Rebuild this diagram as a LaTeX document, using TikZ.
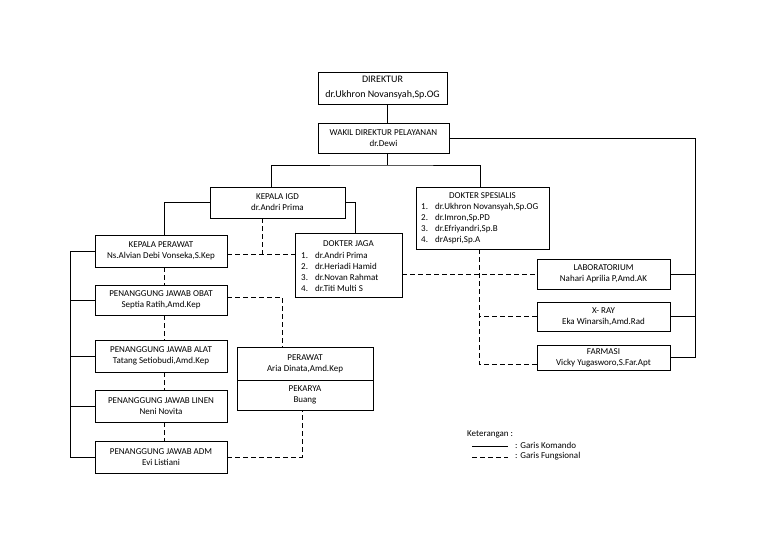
\documentclass[tikz,border=0pt]{standalone}
\usepackage{fontspec}
\setmainfont{Carlito}
\usetikzlibrary{calc}
\newcommand\fs{\fontsize{9}{11}\selectfont}
\newcommand\fsb{\fontsize{10}{15}\selectfont}
\begin{document}
\begin{tikzpicture}[x=1pt,y=-1pt,
 box/.style={draw, line width=0.9pt, align=center, inner sep=0pt, font=\fs},
 txt/.style={inner sep=0pt, font=\fs},
 cmd/.style={line width=0.8pt},
 fung/.style={line width=0.8pt, dash pattern=on 5pt off 3pt}]
\useasboundingbox[fill=white] (0,0) rectangle (768,543);
% boxes
\node[box, font=\fsb, minimum width=129pt, minimum height=32pt] (dir) at (382.5,88) {DIREKTUR\\dr.Ukhron Novansyah,Sp.OG};
\node[box, minimum width=131pt, minimum height=30pt] (wakil) at (383.5,138) {WAKIL DIREKTUR PELAYANAN\\dr.Dewi};
\node[box, minimum width=135pt, minimum height=31pt] (igd) at (277.5,202.5) {KEPALA IGD\\dr.Andri Prima};
\node[box, minimum width=133pt, minimum height=62pt] (spes) at (482.5,218) {};
\node[txt] (spest) at (482.5,196) {DOKTER SPESIALIS};
\node[txt, align=left, anchor=west] (spesl) at (421,223.5) {\makebox[14pt][l]{1.}dr.Ukhron Novansyah,Sp.OG\\\makebox[14pt][l]{2.}dr.Imron,Sp.PD\\\makebox[14pt][l]{3.}dr.Efriyandri,Sp.B\\\makebox[14pt][l]{4.}drAspri,Sp.A};
\node[box, minimum width=107pt, minimum height=64pt] (jaga) at (348.5,265) {};
\node[txt] (jagat) at (348.5,244) {DOKTER JAGA};
\node[txt, align=left, anchor=west] (jagal) at (301,271.5) {\makebox[14pt][l]{1.}dr.Andri Prima\\\makebox[14pt][l]{2.}dr.Heriadi Hamid\\\makebox[14pt][l]{3.}dr.Novan Rahmat\\\makebox[14pt][l]{4.}dr.Titi Multi S};
\node[box, minimum width=132pt, minimum height=32pt] (kp) at (161,251) {KEPALA PERAWAT\\Ns.Alvian Debi Vonseka,S.Kep};
\node[box, minimum width=132pt, minimum height=30pt] (obat) at (161,300) {PENANGGUNG JAWAB OBAT\\Septia Ratih,Amd.Kep};
\node[box, minimum width=132pt, minimum height=32pt] (alat) at (161,356) {PENANGGUNG JAWAB ALAT\\Tatang Setiobudi,Amd.Kep};
\node[box, minimum width=132pt, minimum height=32pt] (linen) at (161,406) {PENANGGUNG JAWAB LINEN\\Neni Novita};
\node[box, minimum width=132pt, minimum height=32pt] (adm) at (161,457) {PENANGGUNG JAWAB ADM\\Evi Listiani};
\node[box, minimum width=136pt, minimum height=33pt] (perawat) at (305,363.5) {PERAWAT\\Aria Dinata,Amd.Kep};
\node[box, minimum width=136pt, minimum height=30pt] (pekarya) at (305,395) {PEKARYA\\Buang};
\node[box, minimum width=133pt, minimum height=30pt] (lab) at (603.5,274) {LABORATORIUM\\Nahari Aprilia P,Amd.AK};
\node[box, minimum width=133pt, minimum height=29pt] (xray) at (603.5,316.5) {X- RAY\\Eka Winarsih,Amd.Rad};
\node[box, minimum width=133pt, minimum height=25pt] (farmasi) at (603.5,357.5) {FARMASI\\Vicky Yugasworo,S.Far.Apt};
% command lines
\draw[cmd] ([xshift=4.5pt]dir.south) -- ([xshift=4.5pt]dir.south |- wakil.north);
\coordinate (j1) at (387,165);
\draw[cmd] ([xshift=3.5pt]wakil.south) -- (j1);
\draw[cmd] ([xshift=-6.5pt]igd.north) |- (j1) -| ([xshift=-2.5pt]spes.north);
\coordinate (rb) at (695,137);
\draw[cmd] (wakil.east) -| (rb |- farmasi.east) -- (farmasi.east);
\draw[cmd] (lab.east) -- (lab.east -| rb);
\draw[cmd] (xray.east) -- (xray.east -| rb);
\draw[cmd] (igd.west) -| ([xshift=3pt]kp.north);
\draw[cmd] (igd.east) -| ([xshift=6.5pt]jaga.north);
\coordinate (lb) at (70,0);
\draw[cmd] (kp.west) -| (lb |- adm.west) -- (adm.west);
\foreach \n in {obat,alat,linen} \draw[cmd] (\n.west) -- (\n.west -| lb);
% functional lines
\coordinate (d1) at (262,254);
\draw[fung] (kp.east |- d1) -- (jaga.west |- d1);
\draw[fung] ([xshift=-15.5pt]igd.south) -- (d1);
\foreach \a/\b in {kp/obat,obat/alat,alat/linen,linen/adm} \draw[fung] ([xshift=3pt]\a.south) -- ([xshift=3pt]\b.north);
\draw[fung] ([yshift=3pt]obat.east) -| ([xshift=-23pt]perawat.north);
\draw[fung] (adm.east) -| ([xshift=-3pt]pekarya.south);
\draw[fung] (jaga.east |- lab.west) -- (lab.west);
\coordinate (sv) at (479,0);
\draw[fung] ([xshift=-3.5pt]spes.south) |- ([yshift=-7pt]farmasi.west);
\draw[fung] (xray.west) -- (xray.west -| sv);
% legend
\node[txt, anchor=west] (ket) at (467,434) {Keterangan :};
\coordinate (l1a) at (472,446); \coordinate (l1b) at (508,446);
\draw[cmd] (l1a) -- (l1b);
\node[txt, anchor=west] (kom) at (515,445) {: Garis Komando};
\coordinate (l2a) at (472,457); \coordinate (l2b) at (508,457);
\draw[fung] (l2a) -- (l2b);
\node[txt, anchor=west] (fun) at (515,456) {: Garis Fungsional};
\end{tikzpicture}
\end{document}
